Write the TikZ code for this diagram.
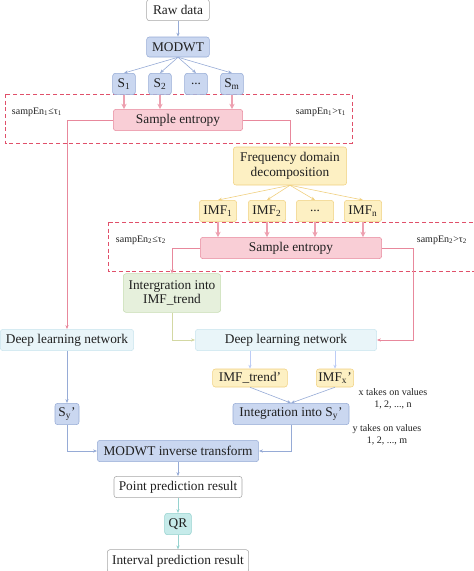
\documentclass[tikz,border=0pt]{standalone}
\usepackage{fontspec}
\setmainfont{Liberation Serif}
\usepackage{tikz}
\usetikzlibrary{arrows.meta}

\definecolor{bluefill}{HTML}{CAD7F0}
\definecolor{blueline}{HTML}{96ABD6}
\definecolor{pinkfill}{HTML}{F9CED6}
\definecolor{pinkline}{HTML}{E8889C}
\definecolor{yellowfill}{HTML}{FDF0C3}
\definecolor{yellowline}{HTML}{F0D080}
\definecolor{greenfill}{HTML}{E6F0DC}
\definecolor{greenline}{HTML}{C6DCB2}
\definecolor{cyanfill}{HTML}{E9F5F9}
\definecolor{cyanline}{HTML}{C8E4EE}
\definecolor{tealfill}{HTML}{C6EBEA}
\definecolor{tealline}{HTML}{96D2CF}
\definecolor{dashred}{HTML}{E0506A}
\definecolor{txt}{HTML}{202020}

\tikzset{
  box/.style = {draw, rounded corners=2pt, inner sep=1pt, align=center, text=txt,
                font=\fontsize{10}{11}\selectfont, minimum height=16pt},
  whitebox/.style = {box, draw=gray!70, fill=white},
  bluebox/.style = {box, draw=blueline, fill=bluefill},
  pinkbox/.style = {box, draw=pinkline, fill=pinkfill},
  yellowbox/.style = {box, draw=yellowline, fill=yellowfill},
  greenbox/.style = {box, draw=greenline, fill=greenfill},
  cyanbox/.style = {box, draw=cyanline, fill=cyanfill},
  tealbox/.style = {box, draw=tealline, fill=tealfill},
  note/.style = {font=\fontsize{7.5}{8.5}\selectfont, text=txt, align=center, inner sep=0pt},
  conn/.style = {-{Stealth[length=3pt, width=2.4pt]}, line width=0.45pt},
  fatconn/.style = {-{Stealth[length=4pt, width=4pt]}, line width=1.3pt, draw=pinkline!80},
  region/.style = {draw=dashred, densely dashed, line width=0.5pt}
}

\begin{document}
\begin{tikzpicture}[x=0.75pt, y=-0.75pt]
\useasboundingbox (0,0) rectangle (474,571);

% dashed regions
\draw[region] (5,94) rectangle (352,143);
\draw[region] (108,222) rectangle (478,271);

% top part
\node[whitebox, minimum width=47pt] (raw) at (178,10) {Raw data};
\node[bluebox, minimum width=47pt, minimum height=15pt] (modwt) at (178,47) {MODWT};
\node[bluebox, minimum width=17pt] (s1) at (124,84) {S\textsubscript{1}};
\node[bluebox, minimum width=17pt] (s2) at (160,84) {S\textsubscript{2}};
\node[bluebox, minimum width=17pt] (sd) at (196,84) {...};
\node[bluebox, minimum width=17pt] (sm) at (232,84) {S\textsubscript{m}};
\node[pinkbox, minimum width=97pt] (se1) at (178,120) {Sample entropy};
\node[note] (lo1) at (37,112) {sampEn\textsubscript{1}≤τ\textsubscript{1}};
\node[note] (hi1) at (321,112) {sampEn\textsubscript{1}>τ\textsubscript{1}};

% frequency domain part
\node[yellowbox, minimum width=85pt, minimum height=28.5pt] (freq) at (290,166) {Frequency domain\\decomposition};
\node[yellowbox, minimum width=28pt] (imf1) at (218,211) {IMF\textsubscript{1}};
\node[yellowbox, minimum width=28pt] (imf2) at (267,211) {IMF\textsubscript{2}};
\node[yellowbox, minimum width=28pt] (imfd) at (315,211) {...};
\node[yellowbox, minimum width=28pt] (imfn) at (363,211) {IMF\textsubscript{n}};
\node[pinkbox, minimum width=136pt] (se2) at (291,248) {Sample entropy};
\node[note] (lo2) at (141,240) {sampEn\textsubscript{2}≤τ\textsubscript{2}};
\node[note] (hi2) at (442,240) {sampEn\textsubscript{2}>τ\textsubscript{2}};

% prediction part
\node[greenbox, minimum width=73pt, minimum height=29pt] (trend) at (172,293) {Intergration into\\IMF\_trend};
\node[cyanbox, minimum width=100pt] (dln1) at (67,340) {Deep learning network};
\node[cyanbox, minimum width=136pt] (dln2) at (286,340) {Deep learning network};
\node[yellowbox, minimum width=56pt, minimum height=13.5pt] (imftr) at (250,378) {IMF\_trend’};
\node[yellowbox, minimum width=28pt, minimum height=13.5pt] (imfx) at (335,378) {IMF\textsubscript{x}’};
\node[note, font=\fontsize{7.5}{9}\selectfont] (xval) at (393,399) {x takes on values\\1, 2, ..., n};
\node[bluebox, minimum width=18pt] (sy) at (67,414) {S\textsubscript{y}’};
\node[bluebox, minimum width=87pt] (ints) at (291,414) {Integration into S\textsubscript{y}’};
\node[note, font=\fontsize{7.5}{9}\selectfont] (yval) at (387,435) {y takes on values\\1, 2, ..., m};
\node[bluebox, minimum width=121pt] (inv) at (178,451) {MODWT inverse transform};
\node[whitebox, minimum width=96pt] (point) at (178,487) {Point prediction result};
\node[tealbox, minimum width=20pt] (qr) at (178,524) {QR};
\node[whitebox, minimum width=106pt, minimum height=17pt] (interval) at (178,561) {Interval prediction result};

% connectors
\draw[conn, blueline] (raw) -- (modwt);
\foreach \s in {s1, s2, sd, sm}
  \draw[conn, blueline] (modwt.south) -- (\s.north);
\foreach \s in {s1, s2, sm}
  \draw[fatconn] (\s.south) -- (\s.south |- se1.north);
\draw[conn, pinkline] (se1.west) -| (dln1.north);
\draw[conn, pinkline] (se1.east) -| (freq.north);
\foreach \m in {imf1, imf2, imfd, imfn}
  \draw[conn, yellowline] (freq.south) -- (\m.north);
\foreach \m in {imf1, imf2, imfd, imfn}
  \draw[fatconn] (\m.south) -- (\m.south |- se2.north);
\draw[conn, pinkline] (se2.west) -| (trend.north);
\draw[conn, pinkline] (se2.east) -| ([xshift=27pt]dln2.east) -- (dln2.east);
\draw[conn, greenline!70!yellowline] (trend.south) |- (dln2.west);
\draw[conn, cyanline!80!blue!70] (dln2.south -| imftr.north) -- (imftr.north);
\draw[conn, cyanline!80!blue!70] (dln2.south -| imfx.north) -- (imfx.north);
\draw[conn, blueline] (imftr.south) -- (ints.north);
\draw[conn, blueline] (imfx.south) -- (ints.north);
\draw[conn, blueline] (dln1) -- (sy);
\draw[conn, blueline] (sy.south) |- (inv.west);
\draw[conn, blueline] (ints.south) |- (inv.east);
\draw[conn, blueline] (inv) -- (point);
\draw[conn, tealline] (point) -- (qr);
\draw[conn, tealline] (qr) -- (interval);
\end{tikzpicture}
\end{document}
